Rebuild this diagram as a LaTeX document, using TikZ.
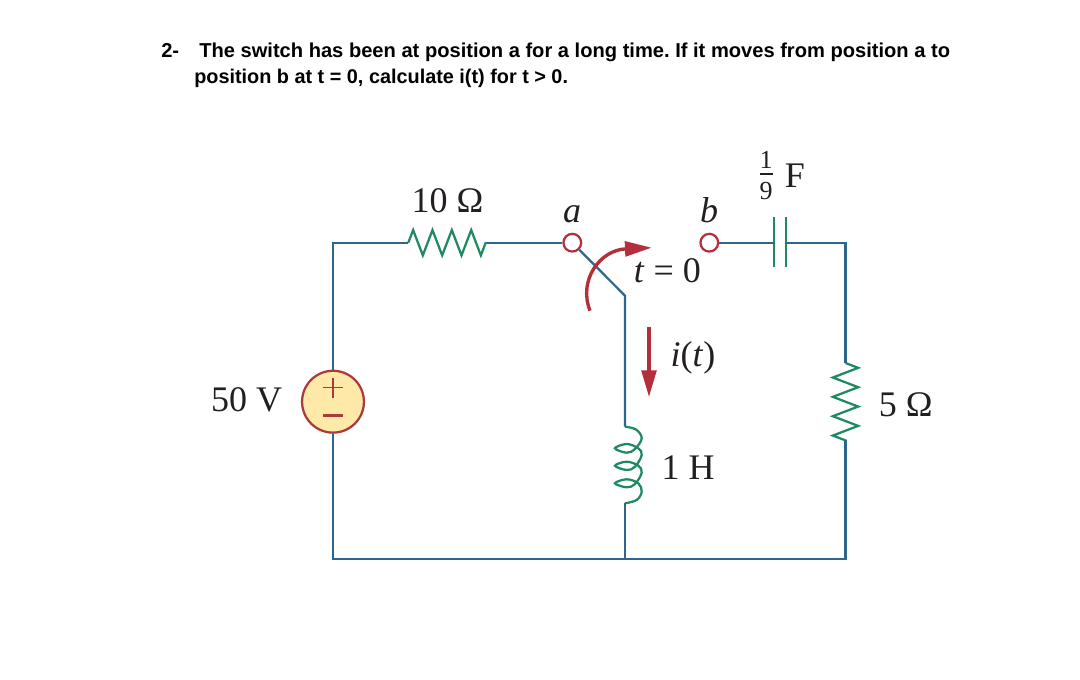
\documentclass[tikz,border=0pt]{standalone}
\usepackage{fontspec}
\setmainfont{Liberation Serif}
\newfontfamily\headFont{Liberation Sans}[BoldFont={Liberation Sans Bold}]
\usepackage{xcolor}
\definecolor{wireColor}{HTML}{2F6690}
\definecolor{partColor}{HTML}{1F8A5F}
\definecolor{redColor}{HTML}{B42F3C}
\definecolor{sourceColor}{HTML}{FFE9A8}
\definecolor{sourceEdge}{HTML}{A93B3A}
\definecolor{textColor}{HTML}{231F20}
\usetikzlibrary{arrows.meta,positioning,decorations.pathmorphing}
\tikzset{
  wire/.style={
    draw=wireColor,
    line width=1.6pt
 },
  partLine/.style={
    draw=partColor,
    line width=1.6pt,
    line join=miter
 },
  resistor/.style={
    partLine,
    decorate,
    decoration={zigzag,segment length=13.76pt,amplitude=9pt}
 },
  terminal/.style={
    circle,
    draw=redColor,
    fill=white,
    line width=1.6pt,
    minimum size=12.6pt,
    inner sep=0pt
 },
  redArrow/.style={
    -{Triangle[length=19pt,width=10.5pt]},
    draw=redColor,
    line width=2.4pt
 },
  value/.style={
    anchor=base,
    inner sep=0pt,
    text=textColor,
    font=\fontsize{25.6}{28}\selectfont
 },
  smallDigit/.style={
    anchor=base,
    inner sep=0pt,
    text=textColor,
    font=\fontsize{18.5}{20}\selectfont
 },
  headText/.style={
    anchor=base west,
    inner sep=0pt,
    text=black,
    font=\headFont\bfseries\fontsize{14.3}{16}\selectfont\frenchspacing
 }
}

\begin{document}
\begin{tikzpicture}[x=0.025cm,y=-0.025cm]
    \useasboundingbox (0,0) rectangle (1080,679);

    % question text
    \node[headText] (qNum) at (161,57) {2-};
    \node[headText] (qLineA) at (199,57) {The switch has been at position a for a long time. If it moves from position a to};
    \node[headText, font=\headFont\bfseries\fontsize{14.11}{16}\selectfont\frenchspacing] (qLineB) at (194,83) {position b at t = 0, calculate i(t) for t > 0.};

    % corners of the loop
    \coordinate (topLeft) at (333,242.7);
    \coordinate (botLeft) at (333,559.3);
    \coordinate (botMid) at (625,559.3);
    \coordinate (botRight) at (845.5,559.3);
    \coordinate (topRight) at (845.5,242.7);
    \coordinate (pivot) at (625,295.7);

    % source
    \node[circle, draw=sourceEdge, fill=sourceColor, line width=1.6pt, minimum size=44pt, inner sep=0pt] (src) at (333,401.7) {};
    \coordinate (plusW) at (323,387.7);
    \coordinate (plusE) at (343,387.7);
    \coordinate (plusN) at (333,377.7);
    \coordinate (plusS) at (333,397.7);
    \coordinate (minusW) at (323,415.7);
    \coordinate (minusE) at (343,415.7);
    \draw[draw=sourceEdge, line width=1.1pt] (plusW) -- (plusE) (plusN) -- (plusS);
    \draw[draw=sourceEdge, line width=1.9pt] (minusW) -- (minusE);

    % resistors
    \coordinate (rTenL) at (408.3,242.7);
    \coordinate (rTenR) at (485.7,242.7);
    \coordinate (rFiveT) at (845.5,363);
    \coordinate (rFiveB) at (845.5,440.4);
    \draw[resistor] (rTenL) -- (rTenR);
    \draw[resistor] (rFiveT) -- (rFiveB);

    % switch terminals
    \node[terminal] (termA) at (572.3,242.7) {};
    \node[terminal] (termB) at (709.3,242.7) {};

    % capacitor
    \coordinate (capL) at (774.3,242.7);
    \coordinate (capR) at (785.7,242.7);
    \coordinate (capLT) at (774.3,217);
    \coordinate (capLB) at (774.3,267);
    \coordinate (capRT) at (785.7,217);
    \coordinate (capRB) at (785.7,267);
    \draw[partLine] (capLT) -- (capLB);
    \draw[partLine] (capRT) -- (capRB);

    % inductor
    \coordinate (coilTop) at (625,426.7);
    \coordinate (coilBot) at (625,503.3);
    \draw[partLine] plot[smooth,tension=0.6] coordinates {(coilTop) (636,429.5) (641.7,438.3) (635,449) (626.7,452.7) (615,448.3) (626.7,444) (638.3,448.3) (641.7,455) (635,466.7) (626.7,470) (615,465.7) (626.7,461.7) (638.3,465.7) (641.7,472.7) (635,484) (626.7,487.3) (615,483.3) (626.7,479.3) (638.3,483.3) (641.7,491.7) (636.7,500) (coilBot)};

    % wires
    \draw[wire] (src) -- (topLeft) -- (rTenL);
    \draw[wire] (rTenR) -- (termA);
    \draw[wire] (termA) -- (pivot) -- (coilTop);
    \draw[wire] (coilBot) -- (botMid);
    \draw[wire] (termB) -- (capL);
    \draw[wire] (capR) -- (topRight) -- (rFiveT);
    \draw[wire] (rFiveB) -- (botRight) -- (botLeft) -- (src);

    % red arrows
    \coordinate (swingFrom) at (590,310.7);
    \coordinate (swingTo) at (651.7,247.7);
    \draw[redArrow] (swingFrom) .. controls (578,280) and (600,250) .. (swingTo);
    \coordinate (curFrom) at (649,327);
    \coordinate (curTo) at (649,397);
    \draw[redArrow] (curFrom) -- (curTo);

    % labels
    \node[value] (lblTen) at (447.5,212.7) {10 Ω};
    \node[value] (lblA) at (572,222.7) {\textit{a}};
    \node[value] (lblB) at (709,222.7) {\textit{b}};
    \node[value] (lblT) at (667.5,282.7) {\textit{t} = 0};
    \node[value] (lblI) at (693,366.7) {\textit{i}(\textit{t})};
    \node[value] (lblL) at (688,479.3) {1 H};
    \node[value] (lblFive) at (905.7,416.7) {5 Ω};
    \node[value] (lblV) at (246.7,411) {50 V};
    \node[value] (lblF) at (795,187.3) {F};
    \node[smallDigit] (fracTop) at (766,168.3) {1};
    \node[smallDigit] (fracBot) at (766,199.3) {9};
    \coordinate (fracL) at (760,174);
    \coordinate (fracR) at (772.7,174);
    \draw[draw=textColor, line width=0.8pt] (fracL) -- (fracR);
\end{tikzpicture}
\end{document}
